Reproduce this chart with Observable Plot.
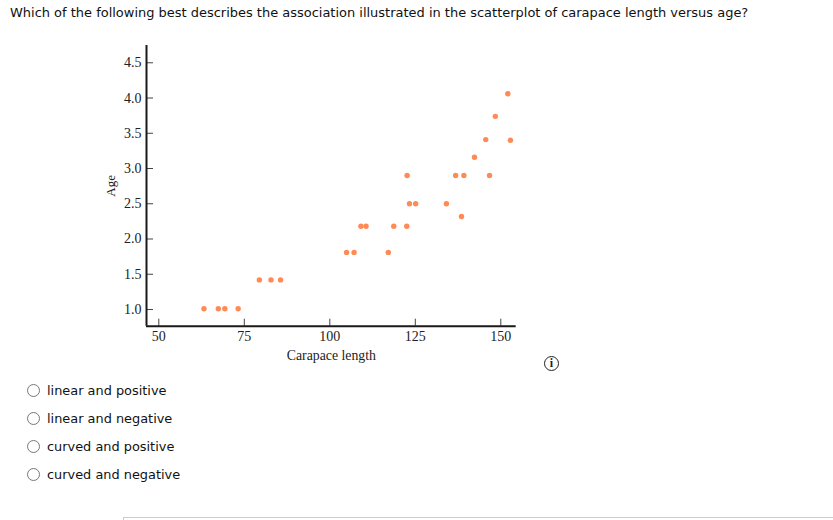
<!DOCTYPE html>
<html>
<head>
<meta charset="utf-8">
<script src="https://cdn.jsdelivr.net/npm/d3@7"></script>
<script src="https://cdn.jsdelivr.net/npm/@observablehq/plot@0.6"></script>
<style>
html,body{margin:0;padding:0;background:#fff;width:833px;height:520px;overflow:hidden;font-family:"DejaVu Sans",sans-serif;color:#111}
#q{position:absolute;left:10px;top:5px;font-size:12.98px;line-height:16px;white-space:nowrap}
#chart{position:absolute;left:0;top:30px}
#opts{position:absolute;left:0;top:378px}
.o{position:absolute;left:47px;font-size:12.9px;line-height:16px;white-space:nowrap}
.r{position:absolute;left:27px;width:13px;height:13px;box-sizing:border-box;border:1px solid #777;border-radius:50%;background:#fff}
#info{position:absolute;left:544px;top:355.5px;width:15px;height:15px;box-sizing:border-box;border:1px solid #222;border-radius:50%;font:bold 12px/13px "Liberation Serif",serif;text-align:center;color:#222}
#rule{position:absolute;left:123px;top:517px;width:710px;height:3px;box-sizing:border-box;border-top:1px solid #ccc;border-left:1px solid #ccc}
</style>
</head>
<body>
<div id="q">Which of the following best describes the association illustrated in the scatterplot of carapace length versus age?</div>
<div id="chart"></div>
<div id="info">i</div>
<div id="opts"></div>
<div id="rule"></div>
<script>
const carapaceLength = [63.2,67.4,69.3,73.2,79.4,82.8,85.6,104.9,107.1,117.1,109.1,110.6,118.7,122.5,123.3,125.1,134.1,138.5,122.6,136.8,139.2,146.7,142.3,145.6,152.8,148.4,152.05];
const age = [1.01,1.01,1.01,1.01,1.42,1.42,1.42,1.81,1.81,1.81,2.18,2.18,2.18,2.18,2.5,2.5,2.5,2.32,2.9,2.9,2.9,2.9,3.16,3.41,3.4,3.74,4.06];
const xTicks = [50,75,100,125,150];
const yTicks = [1,1.5,2,2.5,3,3.5,4,4.5];
const xDomain = [46.4,154.5];
const yDomain = [0.763,4.745];
const choices = ["linear and positive","linear and negative","curved and positive","curved and negative"];
const points = carapaceLength.map((x,i)=>({x,y:age[i]}));
const serif = '"Liberation Serif",serif';

const plot = Plot.plot({
  width:833,height:340,
  marginLeft:146,marginRight:317.3,marginTop:15,marginBottom:44.3,
  style:{fontFamily:serif,background:"#fff",color:"#222"},
  x:{domain:xDomain},
  y:{domain:yDomain},
  marks:[
    Plot.axisX({ticks:xTicks,tickSize:-7,tickPadding:12,tickFormat:d=>String(d),label:null,fontSize:14,stroke:"#444",color:"#222"}),
    Plot.axisY({ticks:yTicks,tickSize:-7,tickPadding:12,tickFormat:d=>d.toFixed(1),label:null,fontSize:14,stroke:"#444",color:"#222"}),
    Plot.axisX({ticks:[],tickSize:0,label:"Carapace length",labelAnchor:"center",labelArrow:"none",labelOffset:34,fontSize:13.8,color:"#222"}),
    Plot.axisY({ticks:[],tickSize:0,label:"Age",labelAnchor:"center",labelArrow:"none",labelOffset:41,fontSize:13,color:"#222"}),
    Plot.ruleX([xDomain[0]],{stroke:"#1a1a1a",strokeWidth:2}),
    Plot.ruleY([yDomain[0]],{stroke:"#1a1a1a",strokeWidth:2}),
    Plot.dot(points,{x:"x",y:"y",r:2.7,fill:"#ff8a55"})
  ]
});
document.getElementById("chart").append(plot);
const opts=document.getElementById("opts");
choices.forEach((c,i)=>{
  const r=document.createElement("div");r.className="r";r.style.top=(5.5+28*i)+"px";
  const t=document.createElement("div");t.className="o";t.style.top=(5+28*i)+"px";t.textContent=c;
  opts.append(r,t);
});
</script>
</body>
</html>
